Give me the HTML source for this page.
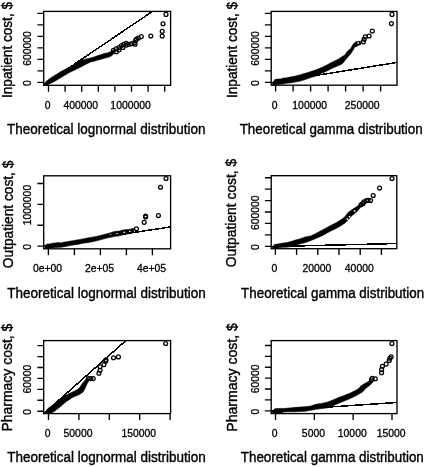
<!DOCTYPE html>
<html><head><meta charset="utf-8"><title>QQ plots</title>
<style>
html,body{margin:0;padding:0;background:#fff;}
svg{display:block;}
.tk{font-family:"Liberation Sans", Arial, Helvetica, sans-serif;font-size:10.4px;fill:#000;stroke:#000;stroke-width:0.3px;}
.tt{font-family:"Liberation Sans", Arial, Helvetica, sans-serif;font-size:14px;fill:#000;stroke:#000;stroke-width:0.38px;}
</style></head><body>
<svg width="425" height="467" viewBox="0 0 425 467">
<rect width="425" height="467" fill="#fff"/>
<defs>
<clipPath id="c0"><rect x="43.7" y="11.4" width="126.9" height="73.9"/></clipPath>
<clipPath id="c1"><rect x="271.2" y="11.4" width="125.8" height="73.8"/></clipPath>
<clipPath id="c2"><rect x="43.7" y="175.8" width="126.9" height="73"/></clipPath>
<clipPath id="c3"><rect x="271.2" y="175.7" width="125.6" height="73"/></clipPath>
<clipPath id="c4"><rect x="43.7" y="340.6" width="126.9" height="73"/></clipPath>
<clipPath id="c5"><rect x="271.2" y="340.6" width="125.8" height="73"/></clipPath>
</defs>
<g>
<polygon points="44.5,83.5 46.2,81.3 51.4,77.4 56.2,74.6 60,72.1 64.7,69.6 69.4,67.2 74.1,64.9 78.8,61.6 82,60.2 86,59 90,58.2 94,57 98,55.6 101.6,54.6 104,53.6 108,52.8 111,51.5 113.5,49.8 114.5,53 112,55.5 109,57 106.1,57.8 100,59.6 98,60 94,61.2 90,62.2 86,64.2 82,66.4 78.8,67.9 74.1,70.3 69.4,72.6 64.7,75.3 60,78.1 56.2,80.4 51.4,83 47,85 44.5,85" fill="#000" stroke="#000" stroke-width="0.6" stroke-linejoin="round"/>
<circle cx="113.4" cy="50.3" r="1.95" fill="none" stroke="#000" stroke-width="1.25"/>
<circle cx="116.3" cy="48.9" r="1.95" fill="none" stroke="#000" stroke-width="1.25"/>
<circle cx="119.1" cy="47.5" r="1.95" fill="none" stroke="#000" stroke-width="1.25"/>
<circle cx="121.5" cy="45.6" r="1.95" fill="none" stroke="#000" stroke-width="1.25"/>
<circle cx="123.8" cy="44.2" r="1.95" fill="none" stroke="#000" stroke-width="1.25"/>
<circle cx="126.2" cy="43.2" r="1.95" fill="none" stroke="#000" stroke-width="1.25"/>
<circle cx="129" cy="44.2" r="1.95" fill="none" stroke="#000" stroke-width="1.25"/>
<circle cx="131.4" cy="43.7" r="1.95" fill="none" stroke="#000" stroke-width="1.25"/>
<circle cx="134.2" cy="42.7" r="1.95" fill="none" stroke="#000" stroke-width="1.25"/>
<circle cx="135.6" cy="40.4" r="1.95" fill="none" stroke="#000" stroke-width="1.25"/>
<circle cx="136.5" cy="39" r="1.95" fill="none" stroke="#000" stroke-width="1.25"/>
<circle cx="138.4" cy="38" r="1.95" fill="none" stroke="#000" stroke-width="1.25"/>
<circle cx="141.3" cy="36.6" r="1.95" fill="none" stroke="#000" stroke-width="1.25"/>
<circle cx="116.3" cy="51.7" r="1.95" fill="none" stroke="#000" stroke-width="1.25"/>
<circle cx="119.1" cy="49.8" r="1.95" fill="none" stroke="#000" stroke-width="1.25"/>
<circle cx="122.9" cy="47.5" r="1.95" fill="none" stroke="#000" stroke-width="1.25"/>
<circle cx="126.6" cy="45.1" r="1.95" fill="none" stroke="#000" stroke-width="1.25"/>
<circle cx="135.1" cy="44.2" r="1.95" fill="none" stroke="#000" stroke-width="1.25"/>
<circle cx="150.8" cy="36" r="1.95" fill="none" stroke="#000" stroke-width="1.25"/>
<circle cx="162.2" cy="36" r="1.95" fill="none" stroke="#000" stroke-width="1.25"/>
<circle cx="162.2" cy="31.3" r="1.95" fill="none" stroke="#000" stroke-width="1.25"/>
<circle cx="163" cy="23.7" r="1.95" fill="none" stroke="#000" stroke-width="1.25"/>
<circle cx="166" cy="14.4" r="1.95" fill="none" stroke="#000" stroke-width="1.25"/>
<line x1="43" y1="85.4" x2="153" y2="11" stroke="#000" stroke-width="1.5" shape-rendering="crispEdges" clip-path="url(#c0)"/>
<rect x="43.7" y="11.4" width="126.9" height="73.9" fill="none" stroke="#000" stroke-width="1.35"/>
<path d="M48.5,85.3V91.7 M65.1,85.3V91.7 M81.7,85.3V91.7 M98.3,85.3V91.7 M114.9,85.3V91.7 M131.5,85.3V91.7 M148.1,85.3V91.7 M164.7,85.3V91.7" stroke="#000" stroke-width="1.35" fill="none"/>
<path d="M43.7,82.3H37.4 M43.7,70.8H37.4 M43.7,59.3H37.4 M43.7,47.8H37.4 M43.7,36.3H37.4 M43.7,24.8H37.4 M43.7,13.3H37.4" stroke="#000" stroke-width="1.35" fill="none"/>
<text class="tk" x="47.6" y="108.8" text-anchor="middle">0</text>
<text class="tk" x="80.8" y="108.8" text-anchor="middle">400000</text>
<text class="tk" x="130.6" y="108.8" text-anchor="middle">1000000</text>
<text class="tk" transform="translate(31.1,83) rotate(-90)" x="0" y="0" text-anchor="middle">0</text>
<text class="tk" transform="translate(31.1,48.5) rotate(-90)" x="0" y="0" text-anchor="middle">600000</text>
</g>
<g>
<polygon points="272.5,83.5 274.8,79.5 277.6,79.1 280.5,79 283.3,78.1 286.1,77.9 288.9,77.3 291.8,76.7 294.6,76.3 299.6,74.9 305.3,73.3 310.9,71.6 316.6,69.6 321.6,67.6 327.3,64.8 332.9,61.7 338.6,59.1 342,56.7 344.8,55 347.6,51.1 350.5,48.8 353.3,43.9 356.1,41.6 358.9,41.3 360.6,41.3 361,44.2 358.9,45.3 356.1,46.6 353.3,49.8 350.5,54.1 347.6,57.3 344.8,60.7 342.4,63.7 339.2,65.3 332.9,67.9 327.3,70.8 321.6,73.3 316.6,75.8 310.9,77.5 305.3,79.5 299.6,81.2 294.6,82.1 291.8,82.7 288.9,83 286.1,83.2 283.3,84 280.5,84.1 277.6,84.4 274.8,84.4 272.5,85" fill="#000" stroke="#000" stroke-width="0.6" stroke-linejoin="round"/>
<circle cx="358.2" cy="42.9" r="0.85" fill="#fff"/>
<circle cx="355" cy="48.1" r="0.85" fill="#fff"/>
<circle cx="363.4" cy="41.8" r="1.95" fill="none" stroke="#000" stroke-width="1.25"/>
<circle cx="364.1" cy="39.2" r="1.95" fill="none" stroke="#000" stroke-width="1.25"/>
<circle cx="365.3" cy="36.7" r="1.95" fill="none" stroke="#000" stroke-width="1.25"/>
<circle cx="369.1" cy="36" r="1.95" fill="none" stroke="#000" stroke-width="1.25"/>
<circle cx="372.3" cy="31" r="1.95" fill="none" stroke="#000" stroke-width="1.25"/>
<circle cx="391.4" cy="23.6" r="1.95" fill="none" stroke="#000" stroke-width="1.25"/>
<circle cx="392" cy="14.4" r="1.95" fill="none" stroke="#000" stroke-width="1.25"/>
<line x1="270" y1="82.8" x2="398" y2="62.3" stroke="#000" stroke-width="1.5" shape-rendering="crispEdges" clip-path="url(#c1)"/>
<rect x="271.2" y="11.4" width="125.8" height="73.8" fill="none" stroke="#000" stroke-width="1.35"/>
<path d="M275.6,85.2V91.6 M293.1,85.2V91.6 M310.6,85.2V91.6 M328.1,85.2V91.6 M345.6,85.2V91.6 M363.1,85.2V91.6 M380.6,85.2V91.6" stroke="#000" stroke-width="1.35" fill="none"/>
<path d="M271.2,82.3H264.9 M271.2,70.8H264.9 M271.2,59.3H264.9 M271.2,47.8H264.9 M271.2,36.3H264.9 M271.2,24.8H264.9 M271.2,13.3H264.9" stroke="#000" stroke-width="1.35" fill="none"/>
<text class="tk" x="274.7" y="108.7" text-anchor="middle">0</text>
<text class="tk" x="309.7" y="108.7" text-anchor="middle">100000</text>
<text class="tk" x="362.2" y="108.7" text-anchor="middle">250000</text>
<text class="tk" transform="translate(258.6,83) rotate(-90)" x="0" y="0" text-anchor="middle">0</text>
<text class="tk" transform="translate(258.6,48.5) rotate(-90)" x="0" y="0" text-anchor="middle">600000</text>
</g>
<g>
<polygon points="45,246 46.8,244.1 49.6,243.9 52.5,243.3 55.3,243 58.1,242.5 60.9,242.9 63.8,242.3 66.6,241.7 71.6,240.9 77.3,239.9 82.9,238.9 88.6,237.8 93.6,236.9 99.3,235.8 104.9,234.3 109.1,233.2 114.2,231.5 119.3,231.1 124.3,229.8 129.4,229.4 133.7,228.3 134,232.4 129.4,233.7 124.3,234.5 119.3,235.8 114.2,236.6 109.1,237.5 104.9,238.6 99.3,240.1 93.6,241.5 88.6,242.5 82.9,243.2 77.3,244.4 71.6,245.2 66.6,246.3 60.9,247.3 55.3,247.5 49.6,248.4 46.8,248.4 45,248.5" fill="#000" stroke="#000" stroke-width="0.6" stroke-linejoin="round"/>
<circle cx="110.4" cy="235.1" r="0.85" fill="#fff"/>
<circle cx="117.1" cy="233.9" r="0.85" fill="#fff"/>
<circle cx="124.3" cy="232.4" r="0.85" fill="#fff"/>
<circle cx="129.8" cy="231.6" r="0.85" fill="#fff"/>
<circle cx="136.5" cy="228.7" r="1.95" fill="none" stroke="#000" stroke-width="1.25"/>
<circle cx="144.2" cy="222.3" r="1.95" fill="none" stroke="#000" stroke-width="1.25"/>
<circle cx="145.6" cy="217" r="1.95" fill="none" stroke="#000" stroke-width="1.25"/>
<circle cx="145.6" cy="216" r="1.95" fill="none" stroke="#000" stroke-width="1.25"/>
<circle cx="158.4" cy="215.6" r="1.95" fill="none" stroke="#000" stroke-width="1.25"/>
<circle cx="160.5" cy="187.2" r="1.95" fill="none" stroke="#000" stroke-width="1.25"/>
<circle cx="166" cy="178.5" r="1.95" fill="none" stroke="#000" stroke-width="1.25"/>
<line x1="43" y1="246.3" x2="172" y2="226.7" stroke="#000" stroke-width="1.5" shape-rendering="crispEdges" clip-path="url(#c2)"/>
<rect x="43.7" y="175.8" width="126.9" height="73" fill="none" stroke="#000" stroke-width="1.35"/>
<path d="M48.4,248.8V255.2 M74.4,248.8V255.2 M100.4,248.8V255.2 M126.4,248.8V255.2 M152.4,248.8V255.2" stroke="#000" stroke-width="1.35" fill="none"/>
<path d="M43.7,246.1H37.4 M43.7,225.23H37.4 M43.7,204.36H37.4 M43.7,183.49H37.4" stroke="#000" stroke-width="1.35" fill="none"/>
<text class="tk" x="47.5" y="272.3" text-anchor="middle">0e+00</text>
<text class="tk" x="99.5" y="272.3" text-anchor="middle">2e+05</text>
<text class="tk" x="151.5" y="272.3" text-anchor="middle">4e+05</text>
<text class="tk" transform="translate(31.1,246.8) rotate(-90)" x="0" y="0" text-anchor="middle">0</text>
<text class="tk" transform="translate(31.1,205.06) rotate(-90)" x="0" y="0" text-anchor="middle">1000000</text>
</g>
<g>
<polygon points="272.5,246.5 274.8,244.4 277.6,244.1 280.5,243.5 283.3,243 286.1,242.7 288.9,242.1 291.8,241.3 294.6,240.3 299.6,238.9 305.3,236.9 310.9,235.9 316.3,233.2 322.8,229.8 329.7,226 336.5,222.6 342,219.1 345,216.7 348,212.5 351,210.4 354,208.3 357,206.5 360,203.5 363,200.4 363,205.6 360,208 357,211.6 354,214 351,216.4 348,220 345,222.9 341.4,225.4 336.5,228.2 329.7,231.6 322.8,235.4 316.3,238.3 310.9,240.6 305.3,242.6 299.6,244 294.6,245.8 291.8,246.4 288.9,246.9 286.1,247.2 283.3,247.2 280.5,247.5 277.6,248.1 274.8,248.1 272.5,248.5" fill="#000" stroke="#000" stroke-width="0.6" stroke-linejoin="round"/>
<circle cx="354.6" cy="210.9" r="0.85" fill="#fff"/>
<circle cx="349.5" cy="216.6" r="0.85" fill="#fff"/>
<circle cx="347.4" cy="219.2" r="0.85" fill="#fff"/>
<circle cx="361.2" cy="204.5" r="0.85" fill="#fff"/>
<circle cx="361.3" cy="204.5" r="1.95" fill="none" stroke="#000" stroke-width="1.25"/>
<circle cx="363" cy="203.4" r="1.95" fill="none" stroke="#000" stroke-width="1.25"/>
<circle cx="364.1" cy="201.7" r="1.95" fill="none" stroke="#000" stroke-width="1.25"/>
<circle cx="366.4" cy="200.6" r="1.95" fill="none" stroke="#000" stroke-width="1.25"/>
<circle cx="368.1" cy="200.2" r="1.95" fill="none" stroke="#000" stroke-width="1.25"/>
<circle cx="370.6" cy="200.6" r="1.95" fill="none" stroke="#000" stroke-width="1.25"/>
<circle cx="373.2" cy="195.5" r="1.95" fill="none" stroke="#000" stroke-width="1.25"/>
<circle cx="379.6" cy="188.1" r="1.95" fill="none" stroke="#000" stroke-width="1.25"/>
<circle cx="392" cy="178.5" r="1.95" fill="none" stroke="#000" stroke-width="1.25"/>
<line x1="270" y1="246.6" x2="398" y2="243.5" stroke="#000" stroke-width="1.5" shape-rendering="crispEdges" clip-path="url(#c3)"/>
<rect x="271.2" y="175.7" width="125.6" height="73" fill="none" stroke="#000" stroke-width="1.35"/>
<path d="M275.4,248.7V255.1 M296.6,248.7V255.1 M317.8,248.7V255.1 M339,248.7V255.1 M360.2,248.7V255.1 M381.4,248.7V255.1" stroke="#000" stroke-width="1.35" fill="none"/>
<path d="M271.2,246.3H264.9 M271.2,234.87H264.9 M271.2,223.44H264.9 M271.2,212.01H264.9 M271.2,200.58H264.9 M271.2,189.15H264.9 M271.2,177.72H264.9" stroke="#000" stroke-width="1.35" fill="none"/>
<text class="tk" x="274.5" y="272.2" text-anchor="middle">0</text>
<text class="tk" x="316.9" y="272.2" text-anchor="middle">20000</text>
<text class="tk" x="359.3" y="272.2" text-anchor="middle">40000</text>
<text class="tk" transform="translate(258.6,247) rotate(-90)" x="0" y="0" text-anchor="middle">0</text>
<text class="tk" transform="translate(258.6,212.71) rotate(-90)" x="0" y="0" text-anchor="middle">600000</text>
</g>
<g>
<polygon points="45,412.2 48,408.5 52,405.6 55.9,402.7 59.7,400 63.6,396.3 66,395.2 68.8,393.8 71.6,392.4 74.5,390.9 77.3,389.7 80.1,387.2 81.3,384.9 83,382.5 84.6,380.8 86.5,378.8 88,377.8 88.6,381.4 87.5,383.1 85.8,386.5 84.6,389.3 83,392.1 80.1,394.1 77.3,395.5 74.5,396.6 71.6,398 68.8,400 66,401.7 64,403.5 61.7,405.6 57.8,408.7 53.9,411.8 50,413.2 45,413.4" fill="#000" stroke="#000" stroke-width="0.6" stroke-linejoin="round"/>
<circle cx="88.3" cy="378.6" r="1.95" fill="none" stroke="#000" stroke-width="1.25"/>
<circle cx="90.8" cy="378.6" r="1.95" fill="none" stroke="#000" stroke-width="1.25"/>
<circle cx="93.2" cy="378.6" r="1.95" fill="none" stroke="#000" stroke-width="1.25"/>
<circle cx="98.9" cy="373.2" r="1.95" fill="none" stroke="#000" stroke-width="1.25"/>
<circle cx="100.1" cy="370.2" r="1.95" fill="none" stroke="#000" stroke-width="1.25"/>
<circle cx="100.1" cy="366.7" r="1.95" fill="none" stroke="#000" stroke-width="1.25"/>
<circle cx="103.9" cy="364.6" r="1.95" fill="none" stroke="#000" stroke-width="1.25"/>
<circle cx="105.6" cy="361.3" r="1.95" fill="none" stroke="#000" stroke-width="1.25"/>
<circle cx="106" cy="359.9" r="1.95" fill="none" stroke="#000" stroke-width="1.25"/>
<circle cx="113.5" cy="357.7" r="1.95" fill="none" stroke="#000" stroke-width="1.25"/>
<circle cx="118.4" cy="356.9" r="1.95" fill="none" stroke="#000" stroke-width="1.25"/>
<circle cx="165.7" cy="343.5" r="1.95" fill="none" stroke="#000" stroke-width="1.25"/>
<line x1="43" y1="414.2" x2="126" y2="340.5" stroke="#000" stroke-width="1.5" shape-rendering="crispEdges" clip-path="url(#c4)"/>
<rect x="43.7" y="340.6" width="126.9" height="73" fill="none" stroke="#000" stroke-width="1.35"/>
<path d="M48.5,413.6V420 M78.9,413.6V420 M109.3,413.6V420 M139.7,413.6V420 M170.1,413.6V420" stroke="#000" stroke-width="1.35" fill="none"/>
<path d="M43.7,411.2H37.4 M43.7,400.28H37.4 M43.7,389.36H37.4 M43.7,378.44H37.4 M43.7,367.52H37.4 M43.7,356.6H37.4 M43.7,345.68H37.4" stroke="#000" stroke-width="1.35" fill="none"/>
<text class="tk" x="47.6" y="437.1" text-anchor="middle">0</text>
<text class="tk" x="78" y="437.1" text-anchor="middle">50000</text>
<text class="tk" x="138.8" y="437.1" text-anchor="middle">150000</text>
<text class="tk" transform="translate(31.1,411.9) rotate(-90)" x="0" y="0" text-anchor="middle">0</text>
<text class="tk" transform="translate(31.1,379.14) rotate(-90)" x="0" y="0" text-anchor="middle">60000</text>
</g>
<g>
<polygon points="272.5,411 274.8,408.8 277.6,408.6 280.5,408.4 283.3,408.5 288.9,408.1 294,407.6 299.6,407.1 305.3,406.7 310.9,406 316,404.3 322,403.4 328,401.9 334,399.6 338,397.7 344.1,395.6 350.2,393.1 356.3,390.1 359.4,387.9 360.6,386.1 365.6,383 369.6,381 371.5,380.6 372.4,382.7 369.6,385.6 365.6,388.4 362.8,391.8 360.6,393.1 356.3,395.6 350.2,398.6 344.1,401.1 338,403.5 334,405.3 328,407.7 322,408.6 316,409.2 310.9,410.3 305.3,411.2 299.6,411.5 294,411.8 288.9,411.8 283.3,412.1 280.5,413.5 277.6,413.5 274.8,413.5 272.5,413.5" fill="#000" stroke="#000" stroke-width="0.6" stroke-linejoin="round"/>
<circle cx="371.4" cy="379.9" r="1.95" fill="none" stroke="#000" stroke-width="1.25"/>
<circle cx="372.2" cy="378.3" r="1.95" fill="none" stroke="#000" stroke-width="1.25"/>
<circle cx="375.3" cy="378.8" r="1.95" fill="none" stroke="#000" stroke-width="1.25"/>
<circle cx="381.6" cy="372.8" r="1.95" fill="none" stroke="#000" stroke-width="1.25"/>
<circle cx="381.6" cy="369.6" r="1.95" fill="none" stroke="#000" stroke-width="1.25"/>
<circle cx="382.4" cy="366.2" r="1.95" fill="none" stroke="#000" stroke-width="1.25"/>
<circle cx="386.1" cy="364.1" r="1.95" fill="none" stroke="#000" stroke-width="1.25"/>
<circle cx="389.2" cy="360.5" r="1.95" fill="none" stroke="#000" stroke-width="1.25"/>
<circle cx="389.9" cy="358.3" r="1.95" fill="none" stroke="#000" stroke-width="1.25"/>
<circle cx="391.1" cy="356.7" r="1.95" fill="none" stroke="#000" stroke-width="1.25"/>
<circle cx="391.9" cy="343.5" r="1.95" fill="none" stroke="#000" stroke-width="1.25"/>
<line x1="270" y1="411" x2="398" y2="402.4" stroke="#000" stroke-width="1.5" shape-rendering="crispEdges" clip-path="url(#c5)"/>
<rect x="271.2" y="340.6" width="125.8" height="73" fill="none" stroke="#000" stroke-width="1.35"/>
<path d="M275.5,413.6V420 M314.33,413.6V420 M353.16,413.6V420 M391.99,413.6V420" stroke="#000" stroke-width="1.35" fill="none"/>
<path d="M271.2,410.8H264.9 M271.2,399.92H264.9 M271.2,389.04H264.9 M271.2,378.16H264.9 M271.2,367.28H264.9 M271.2,356.4H264.9 M271.2,345.52H264.9" stroke="#000" stroke-width="1.35" fill="none"/>
<text class="tk" x="274.6" y="437.1" text-anchor="middle">0</text>
<text class="tk" x="313.43" y="437.1" text-anchor="middle">5000</text>
<text class="tk" x="352.26" y="437.1" text-anchor="middle">10000</text>
<text class="tk" x="391.09" y="437.1" text-anchor="middle">15000</text>
<text class="tk" transform="translate(258.6,411.5) rotate(-90)" x="0" y="0" text-anchor="middle">0</text>
<text class="tk" transform="translate(258.6,378.86) rotate(-90)" x="0" y="0" text-anchor="middle">60000</text>
</g>
<text class="tt" transform="translate(11.8,50) rotate(-90)" x="0" y="0" text-anchor="middle" textLength="96" lengthAdjust="spacingAndGlyphs">Inpatient cost, $</text>
<text class="tt" transform="translate(237.1,50) rotate(-90)" x="0" y="0" text-anchor="middle" textLength="96" lengthAdjust="spacingAndGlyphs">Inpatient cost, $</text>
<text class="tt" transform="translate(12.5,214.4) rotate(-90)" x="0" y="0" text-anchor="middle" textLength="107.5" lengthAdjust="spacingAndGlyphs">Outpatient cost, $</text>
<text class="tt" transform="translate(236.4,213) rotate(-90)" x="0" y="0" text-anchor="middle" textLength="108.5" lengthAdjust="spacingAndGlyphs">Outpatient cost, $</text>
<text class="tt" transform="translate(12,377.6) rotate(-90)" x="0" y="0" text-anchor="middle" textLength="107.8" lengthAdjust="spacingAndGlyphs">Pharmacy cost, $</text>
<text class="tt" transform="translate(237.3,377.4) rotate(-90)" x="0" y="0" text-anchor="middle" textLength="108.6" lengthAdjust="spacingAndGlyphs">Pharmacy cost, $</text>
<text class="tt" x="106.2" y="134.1" text-anchor="middle" textLength="198.5" lengthAdjust="spacingAndGlyphs">Theoretical lognormal distribution</text>
<text class="tt" x="331.2" y="134.1" text-anchor="middle" textLength="183" lengthAdjust="spacingAndGlyphs">Theoretical gamma distribution</text>
<text class="tt" x="106.5" y="297.9" text-anchor="middle" textLength="198.5" lengthAdjust="spacingAndGlyphs">Theoretical lognormal distribution</text>
<text class="tt" x="332.6" y="297.9" text-anchor="middle" textLength="183" lengthAdjust="spacingAndGlyphs">Theoretical gamma distribution</text>
<text class="tt" x="106.5" y="462.2" text-anchor="middle" textLength="198.5" lengthAdjust="spacingAndGlyphs">Theoretical lognormal distribution</text>
<text class="tt" x="332.3" y="462.2" text-anchor="middle" textLength="183" lengthAdjust="spacingAndGlyphs">Theoretical gamma distribution</text>
</svg>
</body></html>
